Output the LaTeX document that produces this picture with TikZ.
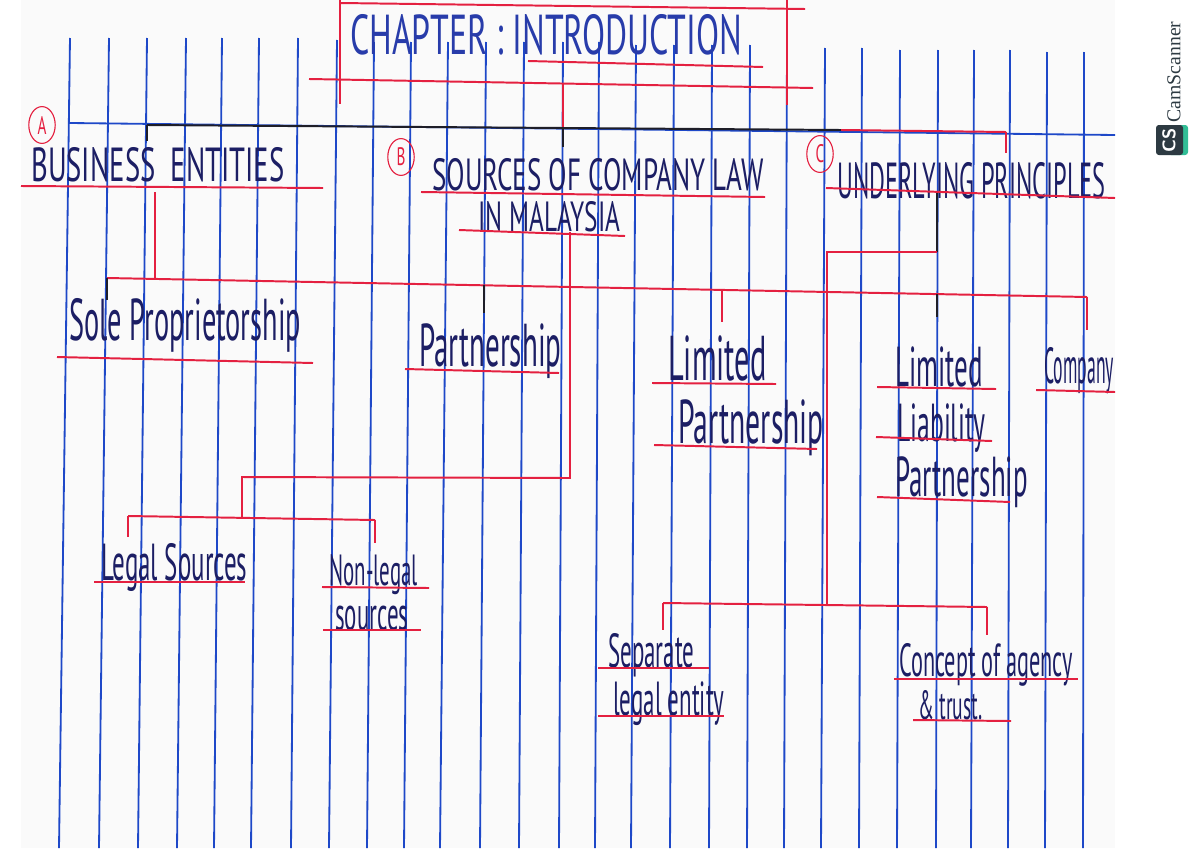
\documentclass[tikz,border=0pt]{standalone}
\usepackage{fontspec}
\usepackage{xcolor}
\usepackage{tikz}
\usetikzlibrary{positioning,shapes.geometric,calc}
\newfontfamily\handfont[FakeStretch=0.48]{PT Sans}
\newfontfamily\handcaps[FakeStretch=0.6]{PT Sans}
\newfontfamily\handnarrow[FakeStretch=0.35]{PT Sans}
\newfontfamily\scanfont{Liberation Serif}
\definecolor{ruleblue}{RGB}{30,72,200}
\definecolor{penred}{RGB}{228,32,64}
\definecolor{penblack}{RGB}{30,30,40}
\definecolor{ink}{RGB}{28,30,100}
\definecolor{titleblue}{RGB}{40,60,170}
\definecolor{csdark}{RGB}{45,58,66}
\definecolor{csteal}{RGB}{50,190,150}

\begin{document}
\begin{tikzpicture}[x=0.025cm,y=-0.025cm,
  ruling/.style={ruleblue,line width=1.3pt},
  red pen/.style={penred,line width=1.4pt},
  black pen/.style={penblack,line width=1.4pt},
  label node/.style={anchor=base west,inner sep=0pt,text=ink,font=\handfont\fontsize{#1}{#1}\selectfont},
  caps node/.style={anchor=base west,inner sep=0pt,text=ink,font=\handcaps\fontsize{#1}{#1}\selectfont},
  letter node/.style={ellipse,draw=penred,thick,text=penred,inner sep=0pt,
    minimum width=0.66cm,minimum height=0.92cm,font=\handcaps\fontsize{18}{18}\selectfont}]
  \useasboundingbox (0,0) rectangle (1200,848);
  \fill[black!2] (21,0) rectangle (1115,848);
  % paper rulings
  \foreach \x/\t/\s in {70/38/11,109/38/10,147/38/9,186/38/9,222/38/8,259/38/8,298/38/7,
    337/40/8,374/42/7,411/42/7,448/42/8,486/42/6,524/42/5,563/42/4,599/42/4,636/45/5,
    674/45/4,712/45/3,750/45/3,787/48/3,825/48/4,862/48/3,900/50/3,938/50/2,974/50/3,
    1010/50/2,1047/52/2,1084/52/1}
    \draw[ruling] (\x,\t)--(\x-\s,848);
  \draw[ruling] (70,123)--(1115,135);

  % title
  \draw[red pen] (340,0)--(340,104);
  \draw[red pen] (787,0)--(787,105);
  \draw[red pen] (340,3)--(805,9);
  \draw[red pen] (309,79)--(813,88);
  \draw[red pen] (528,61)--(763,67);
  \node[caps node=40,text=titleblue] at (350,54) (title) {CHAPTER : INTRODUCTION};

  % headings
  \node[letter node] at (42,125) (ca) {A};
  \node[letter node] at (401,157) (cb) {B};
  \node[letter node] at (820,154) (cc) {C};
  \node[caps node=34] at (31,181) (be) {BUSINESS\ \ ENTITIES};
  \node[caps node=32] at (432,190) (src) {SOURCES OF COMPANY LAW};
  \node[caps node=30] at (478,231) (srcb) {IN MALAYSIA};
  \node[label node=36] at (837,198) (up) {UNDERLYING PRINCIPLES};
  \draw[red pen] (21,186)--(323,188);
  \draw[red pen] (421,192)--(765,197);
  \draw[red pen] (459,230)--(625,236);
  \draw[red pen] (826,188)--(1115,198);

  % business entities
  \node[label node=42] at (69,340) (sole) {Sole Proprietorship};
  \node[label node=43] at (419,366) (part) {Partnership};
  \node[label node=45] at (668,380) (lp) {Limited};
  \node[label node=44] at (678,443) (lpb) {Partnership};
  \node[label node=40] at (895,386) (llp) {Limited};
  \node[label node=38] at (897,441) (llpb) {Liability};
  \node[label node=40] at (895,496) (llpc) {Partnership};
  \node[label node=36,font=\handnarrow\fontsize{36}{36}\selectfont] at (1044,383) (comp) {Company};
  \draw[red pen] (57,357)--(313,363);
  \draw[red pen] (405,369)--(559,373);
  \draw[red pen] (652,383)--(776,384);
  \draw[red pen] (654,445)--(817,449);
  \draw[red pen] (877,387)--(996,389);
  \draw[red pen] (876,437)--(992,441);
  \draw[red pen] (877,497)--(1010,502);
  \draw[red pen] (1036,390)--(1115,392);

  % sources
  \node[label node=37] at (101,580) (legal) {Legal Sources};
  \node[label node=31] at (329,585) (nonl) {Non-legal};
  \node[label node=34] at (335,630) (nonlb) {sources};
  \draw[red pen] (94,582)--(245,582);
  \draw[red pen] (322,587)--(429,588);
  \draw[red pen] (323,630)--(421,630);

  % principles
  \node[label node=34] at (608,667) (sep) {Separate};
  \node[label node=34] at (613,715) (sepb) {legal entity};
  \node[label node=33] at (899,676) (agc) {Concept of agency};
  \node[label node=29] at (918,719) (agcb) {\& trust.};
  \draw[red pen] (598,668)--(709,668);
  \draw[red pen] (598,716)--(724,716);
  \draw[red pen] (894,679)--(1078,679);
  \draw[red pen] (913,720)--(1011,721);

  % bracket points
  \coordinate (t0) at (563,84);
  \coordinate (ta) at (147,125);
  \coordinate (tb) at (563,128);
  \coordinate (tm) at (841,130);
  \coordinate (tc) at (1006,132);
  \coordinate (ta1) at (147,141);
  \coordinate (tb1) at (563,147);
  \coordinate (tc1) at (1006,153);
  \coordinate (e0) at (155,192);
  \coordinate (e1) at (155,279);
  \coordinate (ea) at (107,278);
  \coordinate (eb) at (484,285);
  \coordinate (ec) at (722,290);
  \coordinate (ed) at (937,294);
  \coordinate (ee) at (1087,297);
  \coordinate (ea1) at (107,300);
  \coordinate (eb1) at (484,313);
  \coordinate (ec1) at (722,322);
  \coordinate (ed1) at (937,317);
  \coordinate (ee1) at (1087,330);
  \coordinate (s0) at (570,232);
  \coordinate (s1) at (570,478);
  \coordinate (s2) at (242,477);
  \coordinate (s3) at (242,518);
  \coordinate (sa) at (128,516);
  \coordinate (sb) at (375,520);
  \coordinate (sa1) at (128,537);
  \coordinate (sb1) at (375,543);
  \coordinate (u0) at (937,193);
  \coordinate (u1) at (937,252);
  \coordinate (u2) at (827,252);
  \coordinate (u3) at (827,605);
  \coordinate (ua) at (663,603);
  \coordinate (ub) at (987,607);
  \coordinate (ua1) at (663,630);
  \coordinate (ub1) at (987,635);

  % connectors
  \draw[red pen] (t0)--(tb);
  \draw[black pen] (ta)--(tm);
  \draw[red pen] (tm)--(tc);
  \draw[black pen] (ta)--(ta1);
  \draw[black pen] (tb)--(tb1);
  \draw[red pen] (tc)--(tc1);
  \draw[red pen] (e0)--(e1);
  \draw[red pen] (ea)--(ee);
  \draw[black pen] (ea)--(ea1);
  \draw[black pen] (eb)--(eb1);
  \draw[red pen] (ec)--(ec1);
  \draw[black pen] (ed)--(ed1);
  \draw[red pen] (ee)--(ee1);
  \draw[red pen] (s0)--(s1)--(s2)--(s3);
  \draw[red pen] (sa)--(sb);
  \draw[red pen] (sa)--(sa1);
  \draw[red pen] (sb)--(sb1);
  \draw[black pen] (u0)--(u1);
  \draw[red pen] (u1)--(u2)--(u3);
  \draw[red pen] (ua)--(ub);
  \draw[red pen] (ua)--(ua1);
  \draw[red pen] (ub)--(ub1);

  % scanner mark
  \node[rotate=90,text=csdark,font=\scanfont\fontsize{14}{14}\selectfont] at (1174,72) (scanner) {CamScanner};
  \fill[csteal,rounded corners=2pt] (1168,125) rectangle (1188,155);
  \fill[csdark,rounded corners=2pt] (1156,125) rectangle (1183,155);
  \node[rotate=90,text=white,font=\sffamily\bfseries\fontsize{13}{13}\selectfont] at (1169,140) (cslogo) {CS};
\end{tikzpicture}
\end{document}
